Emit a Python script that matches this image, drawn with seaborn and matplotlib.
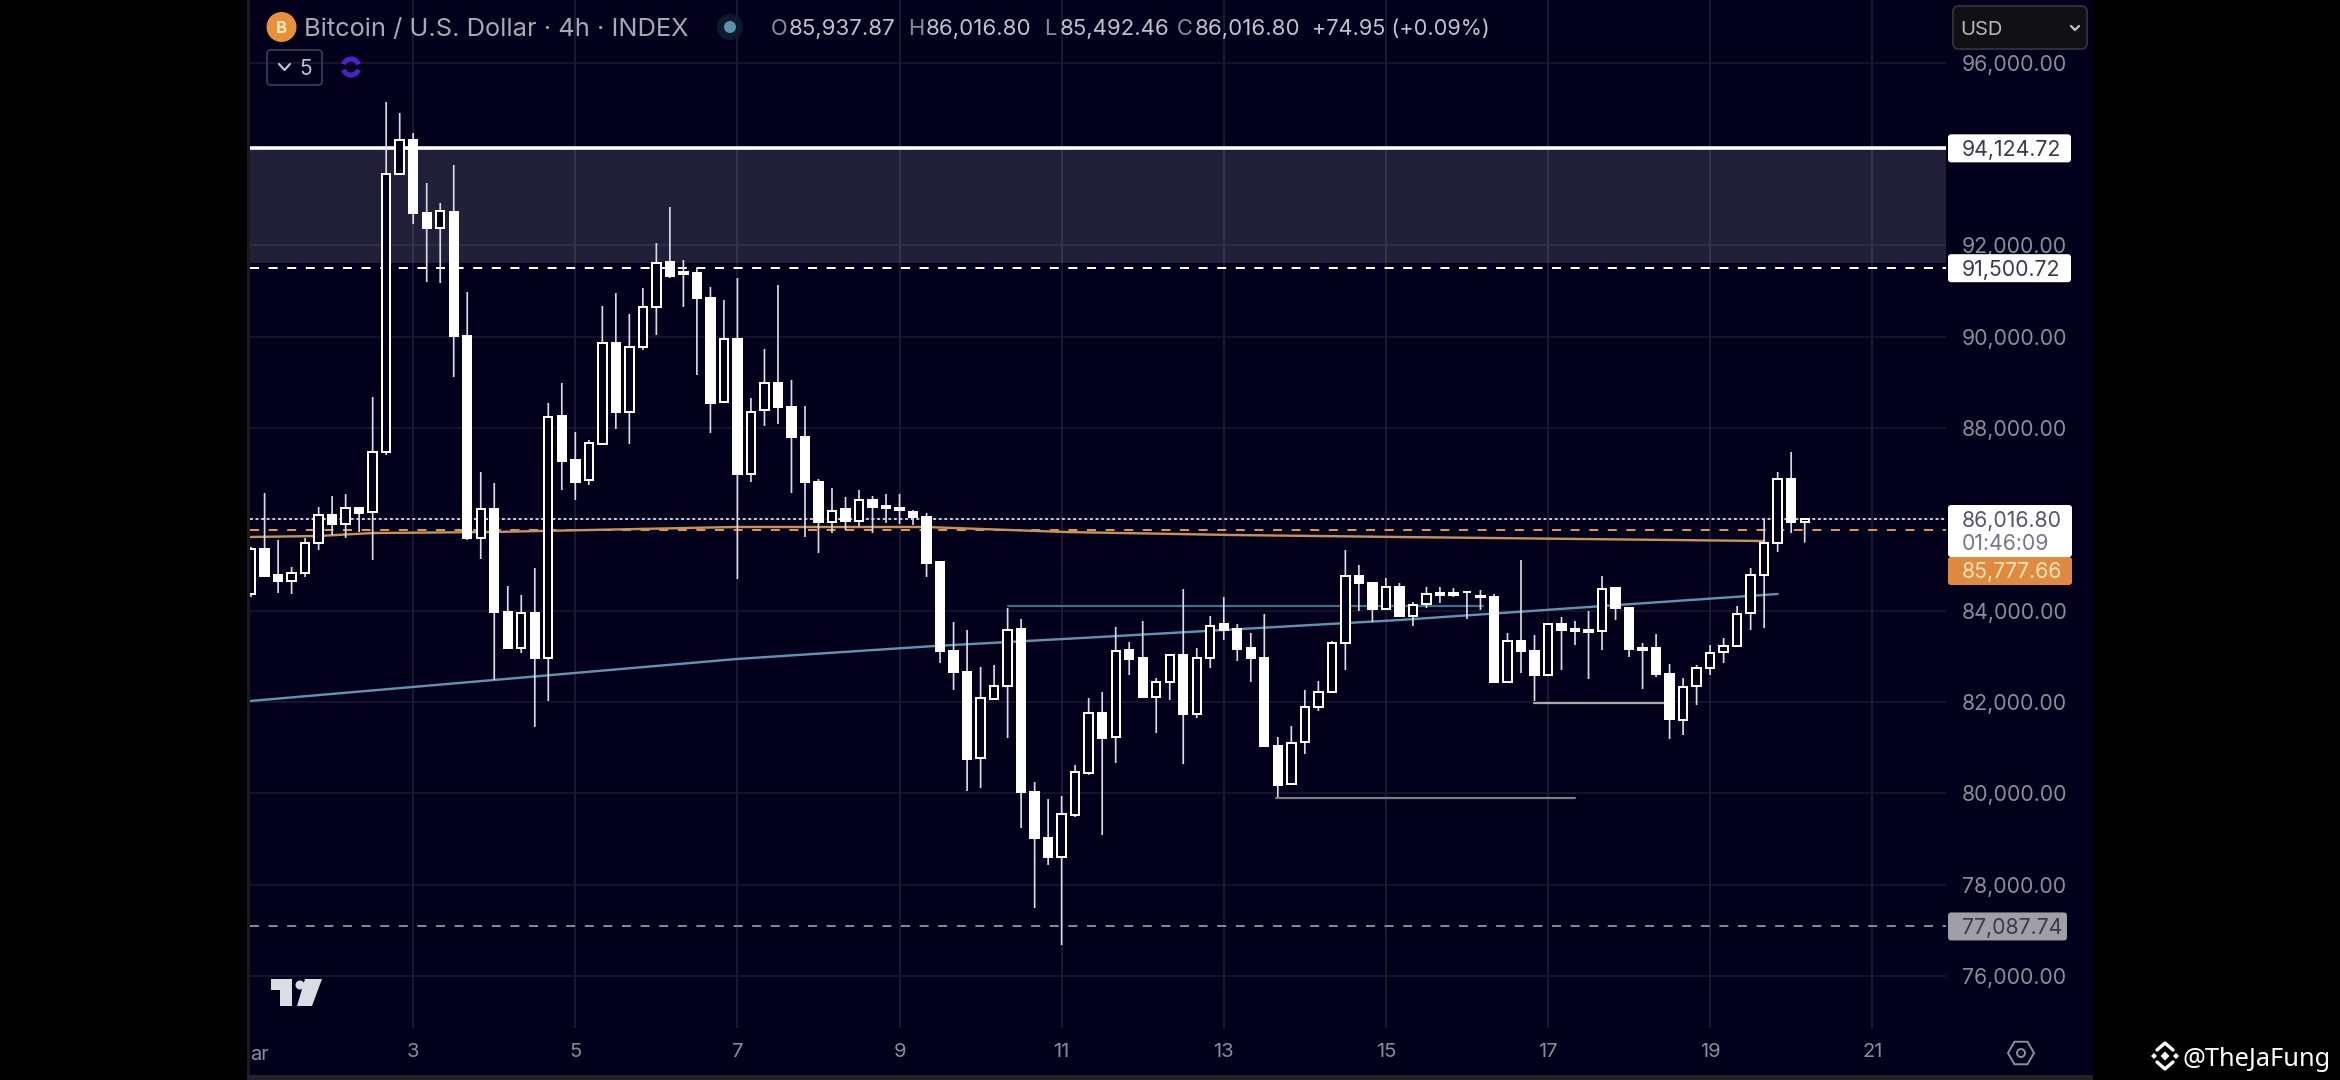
import numpy as np
import pandas as pd
import seaborn as sns
import matplotlib
matplotlib.use("Agg")
import matplotlib.pyplot as plt
from matplotlib.patches import FancyBboxPatch, Rectangle, Circle, Polygon, RegularPolygon, Arc

# ---------- data ----------
opens = [84367,85352,84783,84651,84827,85483,86097,85899,86250,86162,87476,93563,
 94308,92709,92381,92731,90016,85593,86228,83973,83184,83951,82965,88264,
 87301,86863,87651,89863,88352,89775,90651,91636,91420,91395,90848,88571,
 89950,86994,88396,88987,88461,87804,86819,85943,86228,85965,86425,86290,
 86250,86162,86053,85067,83119,82659,80776,82068,82352,83600,80031,79024,
 78608,79528,80447,81761,81236,83141,82965,82111,82440,83031,81739,82965,
 83710,83600,83184,82965,81039,80206,81126,81893,82221,83294,84761,84608,
 84038,84520,83885,84148,84380,84380,84420,84330,84301,82440,83338,83119,
 82593,83710,83590,83570,83557,84498,84060,83175,83184,82615,81608,82352,
 82746,83097,83228,83951,84783,85483,86885,85937.87]
highs = [85400,86578,85549,84958,85593,86272,86513,86556,86272,88680,95140,94899,
 94461,93366,92928,93760,90979,87038,86797,84542,84345,84936,88549,88987,
 87914,87739,90673,90957,90498,91067,92052,92841,91680,91505,91089,90804,
 91286,88658,89731,91133,89053,88483,86885,86688,86491,86644,86513,86556,
 86556,86206,86140,85067,83754,83579,82768,82812,84060,83819,80250,79878,
 79944,80623,82090,82221,83644,83316,83776,82527,83031,84476,83184,83885,
 84301,83710,83513,83929,81236,81477,82265,82462,83338,85330,85002,84608,
 84717,84608,84192,84520,84520,84498,84420,84454,84367,83513,85111,83469,
 83732,83863,83776,83995,84761,84520,84060,83294,83491,82834,82527,82812,
 83250,83403,84104,84936,86009,87038,87476,86016.80]
lows = [84300,84761,84389,84367,84739,85330,85659,85593,85724,85111,87410,93541,
 92468,91198,91176,89118,85549,85133,82484,83184,83075,81455,82024,86644,
 86425,86753,87651,87980,87651,89709,90038,91286,90651,89162,87892,88549,
 84695,86819,88045,88089,86578,85615,85265,85702,85768,85856,85702,85921,
 85899,85878,84739,82856,82265,80053,80119,82068,81214,79243,77491,78433,
 76681,79484,80404,79090,80666,82593,82111,81323,82046,80644,81652,82746,
 83360,82900,82440,81017,79922,80206,80863,81805,82221,82703,83995,83754,
 84038,83885,83666,84060,84170,84301,83819,84016,82440,82440,82637,82024,
 82593,82703,83250,82506,83141,83797,82987,82287,82549,81192,81279,81936,
 82593,82856,83228,83579,83622,85286,85702,85492.46]
closes = [85352,84761,84651,84827,85483,86097,85899,86250,86140,87476,93563,94308,
 92709,92381,92753,90016,85593,86228,83973,83184,83951,82965,88242,87279,
 86819,87673,89863,88352,89775,90651,91614,91330,91370,90848,88549,89950,
 86994,88352,88987,88461,87804,86819,85943,86184,85965,86425,86272,86250,
 86210,86053,85046,83119,82659,80754,82090,82352,83579,80031,79024,78608,
 79550,80469,81761,81214,83119,82944,82111,82440,83031,81739,82965,83666,
 83579,83162,82965,81039,80185,81104,81893,82221,83294,84761,84608,84038,
 84520,83885,84126,84367,84350,84350,84400,84310,82440,83338,83119,82593,
 83710,83579,83565,83545,84476,84060,83162,83150,82615,81630,82330,82746,
 83075,83228,83929,84783,85483,86885,85943,86016.80]
candle_index = list(range(-12, 104))

y_ticks = [76000,78000,80000,82000,84000,86000,88000,90000,92000,96000]
# the 86,000 label lies behind the last-price tag, so the reference does not show it
y_tick_labels = ["76,000.00","78,000.00","80,000.00","82,000.00","84,000.00","",
                 "88,000.00","90,000.00","92,000.00","96,000.00"]
day_labels = ["3","5","7","9","11","13","15","17","19","21"]
day_ticks = [0,12,24,36,48,60,72,84,96,108]

ma_x = [-12.08,-7.05,-2.98,5.7,23.9,37.9,48.3,60.6,73,100]
ma_y = [85615,85637,85702,85724,85834,85834,85724,85659,85615,85527]
trend_x = [-12.08,5.97,23.96,38.6,50.8,73,101]
trend_y = [82024,82484,82944,83228,83425,83797,84367]

level_top = 94124.72
level_band_low = 91614
level_mid = 91500.72
level_last = 86016.80
level_ma = 85777.66
level_low = 77087.74
blue_level = (44, 79.2, 84104)
grey_level = (63.9, 86, 79900)
pale_level = (83, 92.6, 81980)

# ---------- style ----------
BG = "#03001c"
sns.set_theme(style="dark")
plt.rcParams["font.family"] = ["Inter", "DejaVu Sans"]
W, H = 2340, 1080
PT = 0.72  # points per pixel at dpi 100
FS = 15.3

fig = plt.figure(figsize=(W/100, H/100), dpi=100, facecolor="black")

under = fig.add_axes([0,0,1,1], zorder=0)
under.set_xlim(0,W); under.set_ylim(H,0); under.axis("off")
under.add_patch(Rectangle((250,0),1843,1075,fc=BG,ec="none"))
under.add_patch(Rectangle((247,0),3,1080,fc="#1b1b1e",ec="none"))
under.add_patch(Rectangle((247,1075),1846,5,fc="#232326",ec="none"))

ax = fig.add_axes([250/W,(H-1028)/H,1696/W,1028/H], zorder=1)
ax.patch.set_alpha(0)
for s in ax.spines.values():
    s.set_visible(False)

df = pd.DataFrame({"k":candle_index,"o":opens,"h":highs,"l":lows,"c":closes})
df["up"] = df.c >= df.o

ax.set_xlim(-12.08,113.46)
ax.set_ylim(74864,97373)
ax.set_xticks(day_ticks); ax.set_xticklabels(day_labels)
ax.set_yticks(y_ticks); ax.set_yticklabels(y_tick_labels)
ax.yaxis.tick_right()
ax.tick_params(axis="both",length=0,labelcolor="#8d8c99",labelsize=FS)
ax.tick_params(axis="y",pad=11.5)
ax.tick_params(axis="x",pad=10.5,labelsize=14.5)
ax.xaxis.grid(True,color="#211e37",lw=1.6*PT,zorder=0)
ax.yaxis.grid(True,color="#1b1830",lw=1.5*PT,zorder=0)
ax.set_axisbelow(True)

ax.axhspan(level_band_low,level_top,fc="#ffffff",alpha=0.125,ec="none",zorder=1)

ax.axhline(level_top,color="white",lw=3.6*PT,zorder=2)
ax.axhline(level_mid,color="white",lw=2*PT,ls=(0,(4.5,4.8)),zorder=2)
ax.axhline(level_last,color="#c8c8d0",lw=2*PT,ls=(0,(1.4,1.4)),zorder=2)
ax.axhline(level_ma,color="#d9964e",lw=2*PT,ls=(0,(4.5,4.8)),zorder=2)
ax.axhline(level_low,color="#85848f",lw=2*PT,ls=(0,(4.5,4.8)),zorder=2)

sns.lineplot(x=ma_x,y=ma_y,ax=ax,color="#c49355",lw=2.4*PT,sort=False,estimator=None,zorder=3)
sns.lineplot(x=trend_x,y=trend_y,ax=ax,color="#5f94ad",lw=2.4*PT,sort=False,estimator=None,zorder=3)
for (x0,x1,v),col in ((blue_level,"#3f7088"),(grey_level,"#7c7b88"),(pale_level,"#a9a8b3")):
    sns.lineplot(x=[x0,x1],y=[v,v],ax=ax,color=col,lw=2.2*PT,sort=False,estimator=None,zorder=3)

wicks = ax.vlines(df.k,df.l,df.h,color="#dcdbe4",lw=1.7*PT,zorder=4)
wicks.set_snap(False)
body_low = df[["o","c"]].min(axis=1)
body_h = (df.c-df.o).abs()
ax.bar(df.k,body_h,bottom=body_low,width=0.62,
       color=np.where(df.up,BG,"white"),edgecolor="white",lw=2*PT,zorder=5)

# ---------- overlay ----------
top = fig.add_axes([0,0,1,1], zorder=5)
top.set_xlim(0,W); top.set_ylim(H,0); top.axis("off"); top.patch.set_alpha(0)

def py(v):
    return H - ax.transData.transform((0,v))[1]

def box(x0,y0,x1,y1,fc,ec="none",lw=0,r=3):
    top.add_patch(FancyBboxPatch((x0,y0),x1-x0,y1-y0,boxstyle=f"round,pad=0,rounding_size={r}",
                                 fc=fc,ec=ec,lw=lw))

def label(v,text,fc,tc,x1=2071,hh=14):
    y=py(v)
    box(1948,y-hh,x1,y+hh,fc)
    top.text(1962,y,text,color=tc,fontsize=FS,ha="left",va="center_baseline")

label(level_top,"94,124.72","white","#3b3a4c")
label(level_mid,"91,500.72","white","#3b3a4c")
label(level_low,"77,087.74","#a09fa6","#3b3a4c",x1=2067)

box(1948,505,2072,557,"white")
top.text(1962,py(level_last),"86,016.80",color="#55546a",fontsize=FS,ha="left",va="center_baseline")
top.text(1962,542,"01:46:09",color="#77768a",fontsize=FS,ha="left",va="center_baseline")
box(1948,557,2072,585,"#e08a3f")
top.text(1962,570,"85,777.66",color="#fbe3bd",fontsize=FS,ha="left",va="center_baseline")

# header
top.add_patch(Circle((281.5,27),15,fc="#e8913a",ec="none"))
top.text(281.5,27,"B",color="#fbe3c8",fontsize=12,fontweight="bold",ha="center",va="center_baseline")
top.text(304,27,"Bitcoin / U.S. Dollar \u00b7 4h \u00b7 INDEX",color="#a9a8b5",fontsize=18.3,ha="left",va="center_baseline")
top.add_patch(Circle((730,27),13,fc="#0c1a30",ec="none"))
top.add_patch(Circle((730,27),6,fc="#5b93ab",ec="none"))

ohlc = [(771,789,"O","85,937.87"),(908,926,"H","86,016.80"),(1044,1060,"L","85,492.46"),(1177,1195,"C","86,016.80")]
for x,xv,k,v in ohlc:
    top.text(x,27,k,color="#8d8c99",fontsize=15.8,ha="left",va="center_baseline")
    top.text(xv,27,v,color="#c4c3cd",fontsize=16.0,ha="left",va="center_baseline")
top.text(1312,27,"+74.95 (+0.09%)",color="#c4c3cd",fontsize=15.6,ha="left",va="center_baseline")

box(267,50,322,85,"none",ec="#35344a",lw=1.5,r=4)
top.plot([279,284.5,290],[64,70,64],color="#c4c3cd",lw=1.6)
top.text(306,67,"5",color="#c4c3cd",fontsize=15,ha="center",va="center_baseline")
for a0,a1 in ((200,340),(20,160)):
    top.add_patch(Arc((351,67),16,16,theta1=a0,theta2=a1,ec="#4a22c8",lw=3.6))

box(1953,6,2087,49,"#111114",ec="#2e2e38",lw=1.5,r=6)
top.text(1960,28,"USD",color="#b8b7c2",fontsize=14.5,ha="left",va="center_baseline")
top.plot([2071,2075,2079],[26,30,26],color="#c4c3cd",lw=1.6)

# time-scale start and TradingView mark
top.text(250,1053,"ar",color="#8d8c99",fontsize=14.5,ha="left",va="center_baseline")
LOGO="#dcdce4"
top.add_patch(Polygon([(271,979),(292,979),(292,1006),(280,1006),(280,990),(271,990)],fc=LOGO,ec="none"))
top.add_patch(Circle((300,985),4.5,fc=LOGO,ec="none"))
top.add_patch(Polygon([(305,979),(322,979),(312,1006),(297,1006)],fc=LOGO,ec="none"))

# settings hexagon
top.add_patch(RegularPolygon((2021,1053),6,radius=13,orientation=np.pi/6,fc="none",ec="#8f8e9a",lw=1.4))
top.add_patch(Circle((2021,1053),4,fc="none",ec="#8f8e9a",lw=1.4))

# watermark
top.text(2183,1056,"@TheJaFung",color="white",fontsize=18.3,family="Noto Sans",ha="left",va="center_baseline")
for cx,cy,r in ((2165,1056,4.5),(2154,1056,3),(2176,1056,3)):
    top.add_patch(Polygon([(cx-r,cy),(cx,cy-r),(cx+r,cy),(cx,cy+r)],fc="white",ec="none"))
top.plot([2157,2165,2173],[1050,1043,1050],color="white",lw=2.4)
top.plot([2157,2165,2173],[1062,1069,1062],color="white",lw=2.4)

fig.savefig("out.png",dpi=100,facecolor="black")
